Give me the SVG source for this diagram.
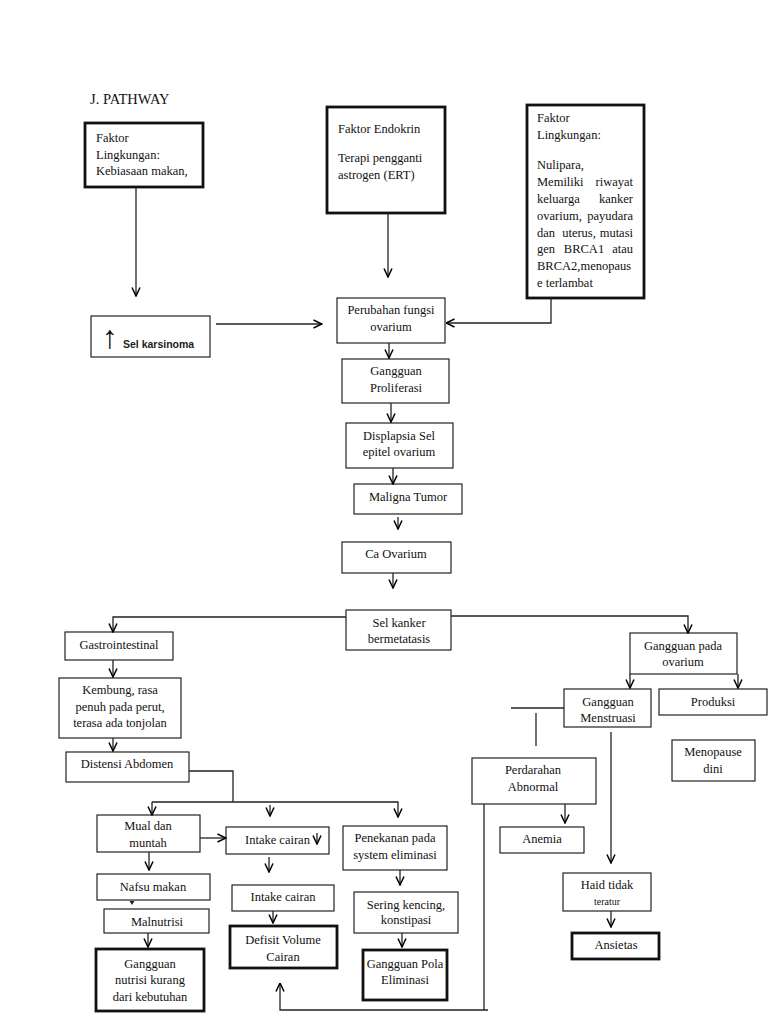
<svg xmlns="http://www.w3.org/2000/svg" width="768" height="1024" viewBox="0 0 768 1024">
<defs>
<marker id="ah" viewBox="0 0 10 10" refX="9.5" refY="5" markerWidth="10" markerHeight="10" markerUnits="userSpaceOnUse" orient="auto">
<path d="M1,1 L9.5,5 L1,9" fill="none" stroke="#000" stroke-width="1.5"/>
</marker>
</defs>
<style>
text{font-family:"Liberation Serif","Times New Roman",serif;font-size:12.5px;fill:#111}
.c{text-anchor:middle}
.e{text-anchor:end}
.box{fill:#fff;stroke:#222;stroke-width:1.2}
.thick{fill:#fff;stroke:#111;stroke-width:2.8}
.ln{fill:none;stroke:#222;stroke-width:1.3}
.ar{fill:none;stroke:#222;stroke-width:1.3;marker-end:url(#ah)}
.sans{font-family:"Liberation Sans",Arial,sans-serif;font-size:10.5px;font-weight:bold;fill:#222}
</style>
<rect width="768" height="1024" fill="#fff"/>
<text x="90" y="104" style="font-size:14.5px">J. PATHWAY</text>

<g id="n-faktor-lingkungan-1">
<rect class="thick" x="85" y="123" width="118" height="64"/>
<text x="96" y="142">Faktor</text>
<text x="96" y="159">Lingkungan:</text>
<text x="96" y="175">Kebiasaan makan,</text>
</g>

<g id="n-sel-karsinoma">
<rect class="box" x="91" y="316" width="119" height="41"/>
<text x="102" y="348" style="font-size:32px;font-family:'Liberation Serif',serif">↑</text>
<text class="sans" x="123" y="348">Sel karsinoma</text>
</g>

<g id="n-faktor-endokrin">
<rect class="thick" x="327" y="107" width="118" height="106"/>
<text x="338" y="133">Faktor Endokrin</text>
<text x="338" y="162">Terapi pengganti</text>
<text x="338" y="179">astrogen (ERT)</text>
</g>

<g id="n-faktor-lingkungan-2">
<rect class="thick" x="527" y="105" width="117" height="193"/>
<text x="537" y="122">Faktor</text>
<text x="537" y="139">Lingkungan:</text>
<text x="537" y="169">Nulipara,</text>
<text x="537" y="186">Memiliki</text><text class="e" x="633" y="186">riwayat</text>
<text x="537" y="203">keluarga</text><text class="e" x="633" y="203">kanker</text>
<text x="537" y="220">ovarium,</text><text class="e" x="633" y="220">payudara</text>
<text x="537" y="237">dan</text><text class="c" x="579" y="237">uterus,</text><text class="e" x="633" y="237">mutasi</text>
<text x="537" y="253">gen</text><text class="c" x="584" y="253">BRCA1</text><text class="e" x="633" y="253">atau</text>
<text x="537" y="270">BRCA2,menopaus</text>
<text x="537" y="287">e terlambat</text>
</g>

<g id="n-perubahan">
<rect class="box" x="337" y="298" width="108" height="45"/>
<text class="c" x="391" y="314">Perubahan fungsi</text>
<text class="c" x="391" y="331">ovarium</text>
</g>

<g id="n-proliferasi">
<rect class="box" x="342" y="359" width="107" height="44"/>
<text class="c" x="396" y="375">Gangguan</text>
<text class="c" x="396" y="392">Proliferasi</text>
</g>

<g id="n-displapsia">
<rect class="box" x="346" y="423" width="107" height="45"/>
<text class="c" x="399" y="440">Displapsia Sel</text>
<text class="c" x="399" y="456">epitel ovarium</text>
</g>

<g id="n-maligna">
<rect class="box" x="354" y="484" width="108" height="30"/>
<text class="c" x="408" y="501">Maligna Tumor</text>
</g>

<g id="n-ca-ovarium">
<rect class="box" x="342" y="542" width="109" height="31"/>
<text class="c" x="396" y="558">Ca Ovarium</text>
</g>

<g id="n-sel-kanker">
<rect class="box" x="346" y="610" width="105" height="40"/>
<text class="c" x="399" y="627">Sel kanker</text>
<text class="c" x="399" y="643">bermetatasis</text>
</g>

<g id="n-gastro">
<rect class="box" x="65" y="632" width="108" height="28"/>
<text class="c" x="119" y="649">Gastrointestinal</text>
</g>

<g id="n-kembung">
<rect class="box" x="59" y="678" width="122" height="60"/>
<text class="c" x="120" y="694">Kembung, rasa</text>
<text class="c" x="120" y="711">penuh pada perut,</text>
<text class="c" x="120" y="727">terasa ada tonjolan</text>
</g>

<g id="n-distensi">
<rect class="box" x="66" y="752" width="123" height="30"/>
<text class="c" x="127" y="768">Distensi Abdomen</text>
</g>

<g id="n-mual">
<rect class="box" x="97" y="815" width="103" height="37"/>
<text class="c" x="148" y="830">Mual dan</text>
<text class="c" x="148" y="847">muntah</text>
</g>

<g id="n-intake-1">
<rect class="box" x="226" y="827" width="103" height="27"/>
<text x="245" y="844">Intake cairan</text>
</g>

<g id="n-intake-2">
<rect class="box" x="232" y="885" width="102" height="26"/>
<text class="c" x="283" y="901">Intake cairan</text>
</g>

<g id="n-defisit">
<rect class="thick" x="230" y="926" width="107" height="42"/>
<text class="c" x="283" y="944">Defisit Volume</text>
<text class="c" x="283" y="961">Cairan</text>
</g>

<g id="n-nafsu">
<rect class="box" x="97" y="874" width="113" height="26"/>
<text class="c" x="153" y="891">Nafsu makan</text>
</g>

<g id="n-malnutrisi">
<rect class="box" x="104" y="909" width="105" height="24"/>
<text class="c" x="157" y="926">Malnutrisi</text>
</g>

<g id="n-gangguan-nutrisi">
<rect class="thick" x="96" y="949" width="108" height="62"/>
<text class="c" x="150" y="968">Gangguan</text>
<text class="c" x="150" y="984">nutrisi kurang</text>
<text class="c" x="150" y="1001">dari kebutuhan</text>
</g>

<g id="n-penekanan">
<rect class="box" x="343" y="826" width="104" height="44"/>
<text class="c" x="395" y="842">Penekanan pada</text>
<text class="c" x="395" y="859">system eliminasi</text>
</g>

<g id="n-sering">
<rect class="box" x="354" y="892" width="104" height="41"/>
<text class="c" x="406" y="909">Sering kencing,</text>
<text class="c" x="406" y="924">konstipasi</text>
</g>

<g id="n-pola">
<rect class="thick" x="363" y="950" width="84" height="50"/>
<text class="c" x="405" y="968">Gangguan Pola</text>
<text class="c" x="405" y="984">Eliminasi</text>
</g>

<g id="n-gangguan-ovarium">
<rect class="box" x="630" y="633" width="107" height="41"/>
<text class="c" x="683" y="650">Gangguan pada</text>
<text class="c" x="683" y="666">ovarium</text>
</g>

<g id="n-menstruasi">
<rect class="box" x="564" y="689" width="87" height="38"/>
<text class="c" x="608" y="706">Gangguan</text>
<text class="c" x="608" y="722">Menstruasi</text>
</g>

<g id="n-produksi">
<rect class="box" x="659" y="689" width="108" height="26"/>
<text class="c" x="713" y="706">Produksi</text>
</g>

<g id="n-menopause">
<rect class="box" x="672" y="740" width="83" height="41"/>
<text class="c" x="713" y="756">Menopause</text>
<text class="c" x="713" y="773">dini</text>
</g>

<g id="n-perdarahan">
<rect class="box" x="472" y="758" width="124" height="46"/>
<text class="c" x="533" y="774">Perdarahan</text>
<text class="c" x="533" y="791">Abnormal</text>
</g>

<g id="n-anemia">
<rect class="box" x="500" y="827" width="84" height="26"/>
<text class="c" x="542" y="843">Anemia</text>
</g>

<g id="n-haid">
<rect class="box" x="563" y="873" width="88" height="38"/>
<text class="c" x="607" y="889">Haid tidak</text>
<text class="c" x="607" y="905" style="font-size:10px">teratur</text>
</g>

<g id="n-ansietas">
<rect class="thick" x="572" y="933" width="87" height="26"/>
<text class="c" x="616" y="949">Ansietas</text>
</g>

<g id="connectors">
<path class="ar" d="M136,187 V296"/>
<path class="ar" d="M388,213 V277"/>
<path class="ar" d="M216,324 H322"/>
<path class="ar" d="M551,298 V323 H446"/>
<path class="ar" d="M389,343 V358"/>
<path class="ar" d="M391,403 V422"/>
<path class="ar" d="M393,468 V484"/>
<path class="ar" d="M398,517 V529"/>
<path class="ar" d="M393,573 V588"/>
<path class="ar" d="M346,617 H113 V632"/>
<path class="ar" d="M451,616 H688 V633"/>
<path class="ar" d="M113,660 V677"/>
<path class="ar" d="M113,738 V751"/>
<path class="ln" d="M189,771 H233 V802"/>
<path class="ar" d="M152,802 H398 V817"/>
<path class="ar" d="M152,802 V815"/>
<path class="ar" d="M270,805 V816"/>
<path class="ar" d="M200,838 H226"/>
<path class="ar" d="M317,833 V844"/>
<path class="ar" d="M269,857 V872"/>
<path class="ar" d="M273,911 V923"/>
<path class="ar" d="M149,852 V870"/>
<path d="M129.5,901 L134.5,901 L132,905 Z" fill="#222"/>
<path class="ar" d="M148,933 V947"/>
<path class="ar" d="M400,870 V885"/>
<path class="ar" d="M402,933 V947"/>
<path class="ar" d="M488,1010 H280 V983"/>
<path class="ln" d="M484,804 V1010"/>
<path class="ar" d="M565,804 V823"/>
<path class="ar" d="M630,674 V688"/>
<path class="ar" d="M738,674 V688"/>
<path class="ln" d="M511,708 H564"/>
<path class="ln" d="M536,713 V746"/>
<path class="ar" d="M611,732 V863"/>
<path class="ar" d="M611,911 V927"/>
</g>
</svg>
